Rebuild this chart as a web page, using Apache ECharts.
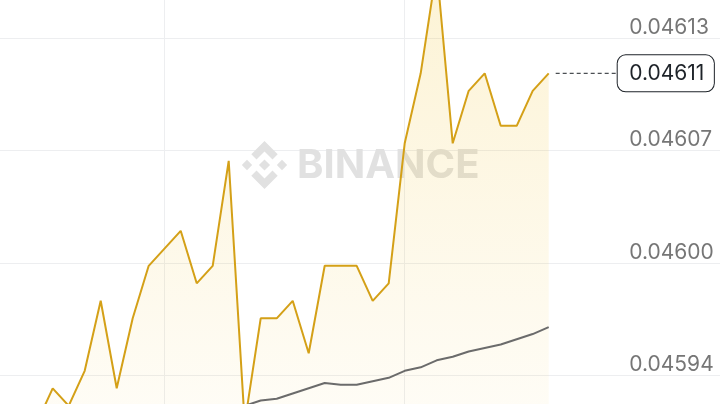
<!DOCTYPE html>
<html><head><meta charset="utf-8">
<script src="https://cdn.jsdelivr.net/npm/echarts@6/dist/echarts.min.js"></script>
<style>html,body{margin:0;padding:0;background:#fff}#c{width:720px;height:404px}</style>
</head><body><div id="c"></div>
<script>
const categories = ['1','2','3','4','5','6','7','8','9','10','11','12','13','14','15','16','17','18','19','20','21','22','23','24','25','26','27','28','29','30','31','32','33'];
const price = [0.04591,0.04593,0.04592,0.04594,0.04598,0.04593,0.04597,0.04600,0.04601,0.04602,0.04599,0.04600,0.04606,0.04591,0.04597,0.04597,0.04598,0.04595,0.04600,0.04600,0.04600,0.04598,0.04599,0.04607,0.04611,0.04617,0.04607,0.04610,0.04611,0.04608,0.04608,0.04610,0.04611];
const movingAvg = [null,null,null,null,null,null,null,null,null,null,null,null,null,0.045920,0.045923,0.045924,0.045927,0.045930,0.045933,0.045932,0.045932,0.045934,0.045936,0.045940,0.045942,0.045946,0.045948,0.045951,0.045953,0.045955,0.045958,0.045961,0.045965];
const yTicks = [0.0459374, 0.0460016, 0.0460658, 0.0461300];
const yTickLabels = ['0.04594','0.04600','0.04607','0.04613'];
const vLineIdx = [8, 23];

const interval = yTicks[1] - yTicks[0];
const yMin = yTicks[0] - interval;
const yMax = yTicks[yTicks.length - 1] + interval;
const FONT = 'Inter, "Noto Sans", sans-serif';
const GRID_TOP = -74.05, GRID_BOTTOM = -83.7;

const chart = echarts.init(document.getElementById('c'), null, {renderer: 'canvas'});
function labelFor(v) {
  for (let i = 0; i < yTicks.length; i++) {
    if (Math.abs(v - yTicks[i]) < interval / 10) return yTickLabels[i];
  }
  return '';
}
chart.setOption({
  animation: false,
  backgroundColor: '#ffffff',
  grid: [
    {left: 36.7, right: 171.3, top: GRID_TOP, bottom: GRID_BOTTOM, outerBoundsMode: 'none', containLabel: false},
    {left: 0, right: 0, top: GRID_TOP, bottom: GRID_BOTTOM, outerBoundsMode: 'none', containLabel: false}
  ],
  xAxis: [
    {
      gridIndex: 0, type: 'category', data: categories, boundaryGap: false,
      axisLine: {show: false}, axisTick: {show: false}, axisLabel: {show: false},
      splitLine: {show: true, interval: (i) => vLineIdx.indexOf(i) >= 0, lineStyle: {color: '#EDEEF0', width: 1}}
    },
    {
      gridIndex: 1, type: 'value', show: false, min: 0, max: 1
    }
  ],
  yAxis: [
    {
      gridIndex: 0, type: 'value', position: 'right', min: yMin, max: yMax, interval: interval,
      axisLine: {show: false}, axisTick: {show: false},
      splitLine: {show: false},
      axisLabel: {
        show: true, margin: 80.6, align: 'left', verticalAlign: 'bottom',
        showMinLabel: false, showMaxLabel: false,
        color: '#767676', fontSize: 21, fontFamily: FONT,
        formatter: labelFor
      }
    },
    {
      gridIndex: 1, type: 'value', min: yMin, max: yMax, interval: interval,
      axisLine: {show: false}, axisTick: {show: false}, axisLabel: {show: false},
      splitLine: {show: true, lineStyle: {color: '#EDEEF0', width: 1}}
    }
  ],
  series: [
    {
      type: 'line', data: price, symbol: 'none', z: 3, xAxisIndex: 0, yAxisIndex: 0,
      lineStyle: {color: '#D4A017', width: 2},
      areaStyle: {color: new echarts.graphic.LinearGradient(0, 0, 0, 1, [
        {offset: 0, color: 'rgba(240,185,11,0.25)'},
        {offset: 1, color: 'rgba(240,185,11,0.02)'}
      ])}
    },
    {
      type: 'line', data: movingAvg, symbol: 'none', z: 4, xAxisIndex: 0, yAxisIndex: 0,
      lineStyle: {color: '#6B6B6B', width: 2}
    }
  ]
});

const last = chart.convertToPixel({xAxisIndex: 0, yAxisIndex: 0}, [price.length - 1, price[price.length - 1]]);
const px = last[0], py = last[1];
const cx = 264.5, cy = 165, gray = '#E1E1E1';
function dia(x, y, r) { return [[x, y - r], [x + r, y], [x, y + r], [x - r, y]]; }
chart.setOption({
  graphic: [
    {type: 'group', z: 0, silent: true, children: [
      {type: 'polygon', shape: {points: dia(cx - 17.5, cy, 5.2)}, style: {fill: gray}},
      {type: 'polygon', shape: {points: dia(cx + 17.5, cy, 5.2)}, style: {fill: gray}},
      {type: 'polygon', shape: {points: dia(cx, cy, 5.6)}, style: {fill: gray}},
      {type: 'polygon', shape: {points: [[cx, cy - 24], [cx + 13.2, cy - 10.8], [cx + 8, cy - 5.6], [cx, cy - 13.6], [cx - 8, cy - 5.6], [cx - 13.2, cy - 10.8]]}, style: {fill: gray}},
      {type: 'polygon', shape: {points: [[cx, cy + 24], [cx + 13.2, cy + 10.8], [cx + 8, cy + 5.6], [cx, cy + 13.6], [cx - 8, cy + 5.6], [cx - 13.2, cy + 10.8]]}, style: {fill: gray}},
      {type: 'text', x: 297, y: cy + 1, style: {text: 'BINANCE', fill: gray, font: 'bold 40px ' + FONT, textVerticalAlign: 'middle', textAlign: 'left'}}
    ]},
    {type: 'line', z: 10, shape: {x1: px + 7, y1: py, x2: px + 69, y2: py}, style: {stroke: '#1E2329', lineWidth: 1, lineDash: [4, 3]}},
    {type: 'text', z: 10, x: px + 69, y: py, style: {
      text: price[price.length - 1].toFixed(5), fill: '#1E2329', font: '21px ' + FONT,
      textVerticalAlign: 'middle', textAlign: 'left',
      backgroundColor: '#fff', borderColor: '#1E2329', borderWidth: 1, borderRadius: 8,
      padding: [7.5, 9.5, 7.5, 11.5]
    }}
  ]
});
</script></body></html>
